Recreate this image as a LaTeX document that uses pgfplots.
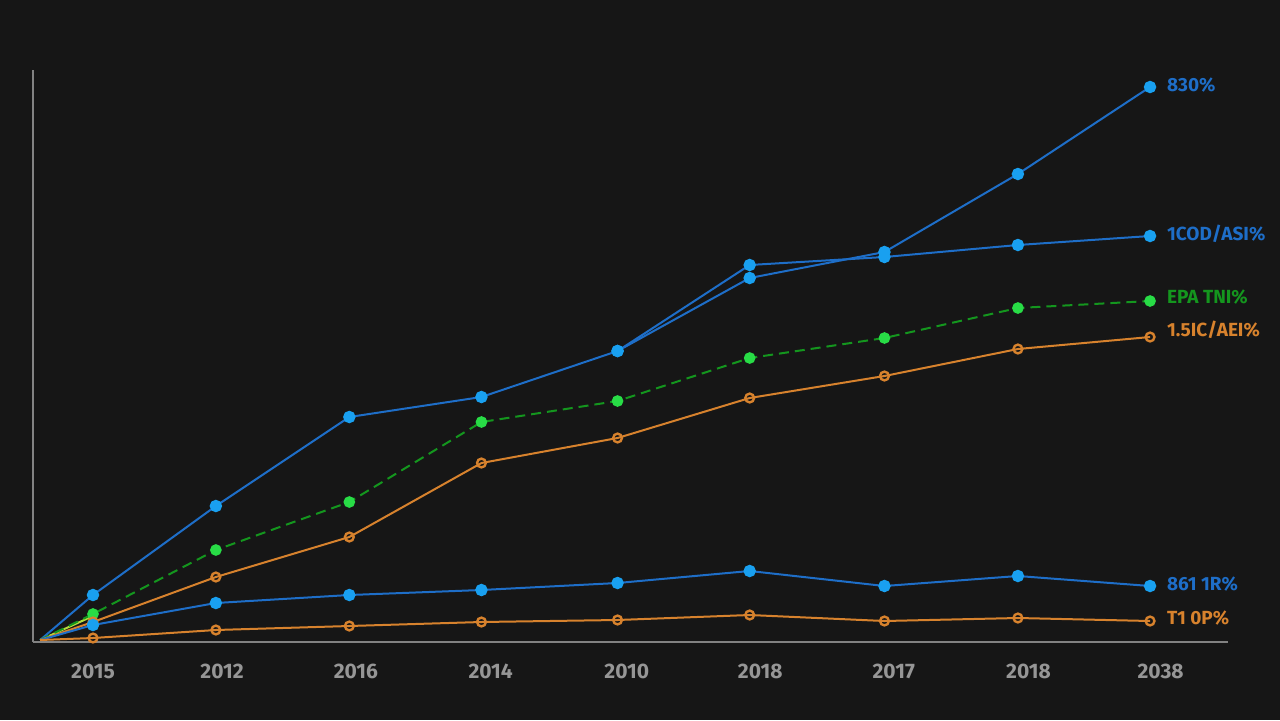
\documentclass[border=0pt]{standalone}
\usepackage{fontspec}
\setmainfont{Fira Sans}
\usepackage{pgfplots}
\pgfplotsset{compat=1.18}

\definecolor{bg}{RGB}{22,22,22}
\definecolor{axisgray}{RGB}{130,130,130}
\definecolor{ticktext}{RGB}{150,150,150}
\definecolor{lineblue}{RGB}{30,110,200}
\definecolor{dotblue}{RGB}{25,160,240}
\definecolor{linegreen}{RGB}{20,150,30}
\definecolor{dotgreen}{RGB}{40,220,70}
\definecolor{lineorange}{RGB}{215,130,45}
\definecolor{lime}{RGB}{180,220,60}

\begin{document}
\begin{tikzpicture}
\fill[bg] (0,0) rectangle (640pt,360pt);
\useasboundingbox (0,0) rectangle (640pt,360pt);
\begin{axis}[
  at={(16.5pt,39pt)}, anchor=south west,
  scale only axis, width=597.5pt, height=286pt,
  xmin=-0.454, xmax=8.59, ymin=0, ymax=572,
  axis x line=bottom, axis y line=left,
  axis line style={axisgray, line width=1.2pt, -},
  xtick={0,0.977,1.99,3.01,4.04,5.05,6.06,7.08,8.08},
  xticklabels={2015,2012,2016,2014,2010,2018,2017,2018,2038},
  ytick=\empty,
  major tick length=0pt,
  xticklabel style={ticktext, font=\fontsize{10.5}{12}\selectfont\bfseries, yshift=-7.5pt},
  /pgf/number format/assume math mode=true,
  clip=false,
  every axis plot/.append style={line width=1pt},
]
% lime start segment
\addplot[lime, mark=square*, mark size=1.5pt, mark indices={2}, mark options={fill=lime, draw=lime}] coordinates {(-0.4,2) (0,26)};
% blue A
\addplot[lineblue, mark=*, mark size=2.6pt, mark indices={2,...,10}, mark options={fill=dotblue, draw=dotblue}] coordinates {
(-0.4,2) (0,47) (0.93,136) (1.94,225) (2.94,245) (3.97,291) (4.97,364) (5.99,390) (7.0,468) (8,555)};
% blue B
\addplot[lineblue, mark=*, mark size=2.6pt, mark options={fill=dotblue, draw=dotblue}] coordinates {
(3.97,291) (4.97,377) (5.99,385) (7.0,397) (8,406)};
% green dashed
\addplot[linegreen, dash pattern=on 5pt off 3pt, mark=*, mark size=2.4pt, mark indices={2,...,10}, mark options={solid, fill=dotgreen, draw=dotgreen}] coordinates {
(-0.4,2) (0,28) (0.93,92) (1.94,140) (2.94,220) (3.97,241) (4.97,284) (5.99,304) (7.0,334) (8,341)};
% orange A
\addplot[lineorange, mark=o, mark size=2.2pt, mark indices={2,...,10}, mark options={lineorange, line width=1.2pt}] coordinates {
(-0.4,2) (0,20) (0.93,65) (1.94,105) (2.94,179) (3.97,204) (4.97,244) (5.99,266) (7.0,293) (8,305)};
% blue C
\addplot[lineblue, mark=*, mark size=2.6pt, mark indices={2,...,10}, mark options={fill=dotblue, draw=dotblue}] coordinates {
(-0.4,2) (0,17) (0.93,39) (1.94,47) (2.94,52) (3.97,59) (4.97,71) (5.99,56) (7.0,66) (8,56)};
% orange B
\addplot[lineorange, mark=o, mark size=2.2pt, mark indices={2,...,10}, mark options={lineorange, line width=1.2pt}] coordinates {
(-0.4,2) (0,4) (0.93,12) (1.94,16) (2.94,20) (3.97,22) (4.97,27) (5.99,21) (7.0,24) (8,21)};

\begin{scope}[every node/.style={anchor=west, font=\fontsize{9.5}{11}\selectfont\bfseries, xshift=5pt}]
\node[text=lineblue] at (axis cs:8,557) {830\%};
\node[text=lineblue] at (axis cs:8,408) {1COD/ASI\%};
\node[text=linegreen] at (axis cs:8,345) {EPA TNI\%};
\node[text=lineorange] at (axis cs:8,312) {1.5IC/AEI\%};
\node[text=lineblue] at (axis cs:8,58) {861 1R\%};
\node[text=lineorange] at (axis cs:8,24) {T1 0P\%};
\end{scope}
\end{axis}
\end{tikzpicture}
\end{document}
